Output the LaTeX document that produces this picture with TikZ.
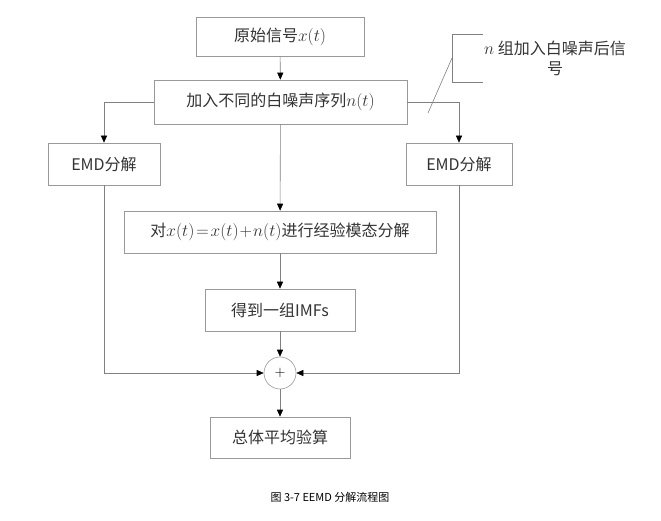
\documentclass[tikz,border=0pt]{standalone}
\usepackage{fontspec}
\newfontfamily\cjk{Noto Sans CJK SC}
\usetikzlibrary{arrows.meta}
\begin{document}
\begin{tikzpicture}[x=1pt,y=-1pt,
  box/.style={draw=gray!80,line width=0.6pt,minimum height=42pt,font=\cjk\fontsize{16}{18}\selectfont,inner sep=0pt,text=black!80},
  ln/.style={draw=gray,line width=0.6pt},
  ar/.style={ln,-{Triangle[length=7pt,width=6pt,fill=black,color=black]}}]
\useasboundingbox (0,0) rectangle (661,521);
\node[box,minimum width=168pt,minimum height=39pt] (a) at (280,36.5) {原始信号$x(t)$};
\node[box,minimum width=253pt,minimum height=44pt] (b) at (280.5,102) {加入不同的白噪声序列$n(t)$};
\node[box,minimum width=112pt] (l) at (104,164) {EMD分解};
\node[box,minimum width=106pt] (r) at (459,164) {EMD分解};
\node[box,minimum width=312pt] (c) at (280,232) {对$x(t)\!=\!x(t)\!+\!n(t)$进行经验模态分解};
\node[box,minimum width=150pt] (d) at (280,310) {得到一组IMFs};
\node[draw=gray!80,line width=0.6pt,circle,minimum size=32pt,inner sep=0pt,font=\Large] (p) at (280,373) {$+$};
\node[box,minimum width=140pt,minimum height=41pt] (e) at (280,437.5) {总体平均验算};
\draw[ar] (a) -- (b);
\draw[ar] (b.west) -| (l.north);
\draw[ar] (b.east) -| (r.north);
\draw[ar] (b) -- (c);
\draw[ar] (c) -- (d);
\draw[ar] (d) -- (p);
\draw[ar] (l.south) |- (p.west);
\draw[ar] (r.south) |- (p.east);
\draw[ar] (p) -- (e);
\coordinate (k1) at (452,58);
\coordinate (k2) at (428,113);
\draw[ln] (483,34) -- (452,34) -- (452,82) -- (483,82);
\draw[ln] (k1) -- (k2);
\node[font=\cjk\fontsize{16}{20}\selectfont,align=center,text=black!80] (n) at (555,58) {$n$ 组加入白噪声后信\\号};
\node[font=\cjk\fontsize{11}{13}\selectfont] (cap) at (330,497) {图 3-7 EEMD 分解流程图};
\end{tikzpicture}
\end{document}
